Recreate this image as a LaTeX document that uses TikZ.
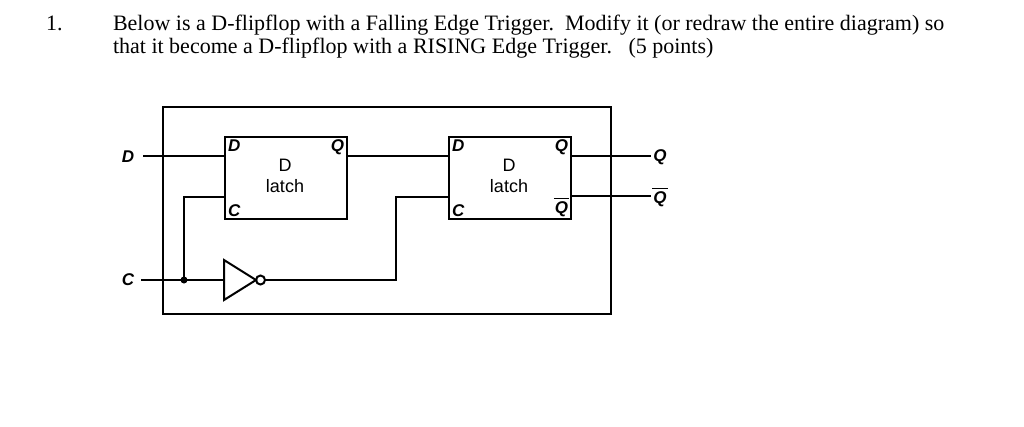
\documentclass[tikz,border=0pt]{standalone}
\usepackage{fontspec}
\setmainfont{Liberation Serif}
\newfontfamily\lsans{Liberation Sans}
\begin{document}
\begin{tikzpicture}[x=1pt,y=-1pt,line width=2pt,
  lbl/.style={font=\lsans\bfseries\itshape\fontsize{17}{17}\selectfont,inner sep=0pt},
  ctr/.style={font=\lsans\fontsize{18}{21}\selectfont,align=center,inner sep=0pt},
  box/.style={draw,minimum width=122pt,minimum height=82pt,anchor=north west,inner sep=0pt}]
\useasboundingbox (0,0) rectangle (1024,426);
\node[anchor=base west,font=\fontsize{22}{23}\selectfont,inner sep=0pt] (num) at (45,30) {1.};
\node[anchor=base west,font=\fontsize{22}{23}\selectfont,inner sep=0pt] (txt1) at (112,30) {Below is a D-flipflop with a Falling Edge Trigger.\ \ Modify it (or redraw the entire diagram) so};
\node[anchor=base west,font=\fontsize{22}{23}\selectfont,inner sep=0pt] (txt2) at (112,53) {that it become a D-flipflop with a RISING Edge Trigger.\ \ \ (5 points)};
\node[draw,minimum width=448pt,minimum height=207pt,anchor=north west,inner sep=0pt] (outer) at (162,106) {};
\node[box] (l1) at (224,136) {};
\node[box] (l2) at (448,136) {};
\node[ctr] (t1) at (285,176) {D\\latch};
\node[ctr] (t2) at (509,176) {D\\latch};
\foreach \b in {l1,l2}{
  \node[lbl,anchor=north west] at ([shift={(3,3)}]\b.north west) {D};
  \node[lbl,anchor=south west] at ([shift={(3,-2)}]\b.south west) {C};
}
\node[lbl,anchor=north east] at ([shift={(-3,3)}]l1.north east) {Q};
\node[lbl,anchor=north east] at ([shift={(-3,3)}]l2.north east) {Q};
\node[lbl,anchor=south east] (qb) at ([shift={(-3,-2)}]l2.south east) {Q};
\draw[line width=1.3pt] ([yshift=2pt]qb.north west) -- ([yshift=2pt]qb.north east);
\node[lbl] (D) at (128,157) {D};
\node[lbl] (C) at (128,280) {C};
\node[lbl] (Qo) at (660,157) {Q};
\node[lbl] (Qbo) at (660,199) {Q};
\draw[line width=1.3pt] ([yshift=2pt]Qbo.north west) -- ([yshift=2pt]Qbo.north east);
\coordinate (dst) at (143,156);
\coordinate (cst) at (141,280);
\coordinate (j) at (184,280);
\coordinate (qe) at (651,156);
\coordinate (qbe) at (651,196);
\draw (dst) -- (224,156);
\draw (cst) -- (224,280);
\fill (j) circle (3.5pt);
\draw (j) |- (224,197);
\draw (224,260) -- (224,300) -- (256,280) -- cycle;
\draw (260.5,280) circle (4.5pt);
\node[inner sep=0pt,minimum size=0pt] (inv) at (265,280) {};
\draw (inv) -- (396,280) |- (448,197);
\draw (346,156) -- (448,156);
\draw (570,156) -- (qe);
\draw (570,196) -- (qbe);
\end{tikzpicture}
\end{document}
